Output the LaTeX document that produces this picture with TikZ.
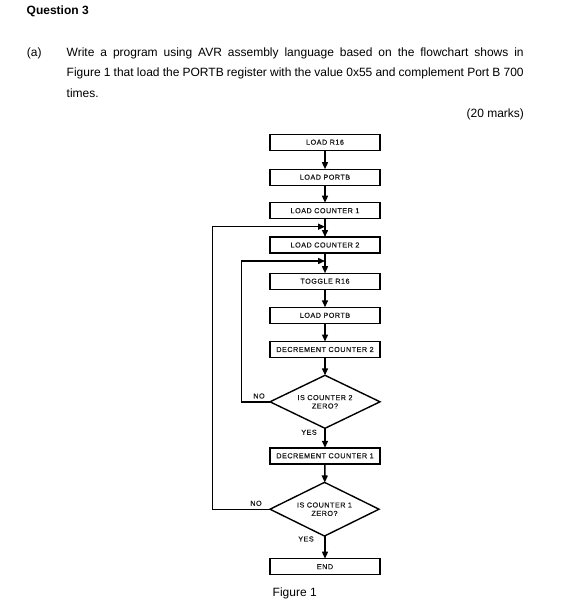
\documentclass[tikz,border=0pt]{standalone}
\usepackage{fontspec}
\setmainfont{Liberation Sans}
\newfontfamily\chartfont[LetterSpace=7, FakeBold=0.6]{Liberation Sans}
\usetikzlibrary{arrows.meta,shapes.geometric}
\begin{document}
\begin{tikzpicture}[x=1pt,y=-1pt,
  every node/.style={inner sep=0pt, outer sep=0pt},
  body/.style={font=\fontsize{12}{14}\selectfont, anchor=base west},
  boxnode/.style={draw, line width=1.4pt, minimum width=110pt, minimum height=16pt,
     font=\chartfont\fontsize{7.2}{8.4}\selectfont, text=black!90},
  decision/.style={draw, shape=diamond, aspect=2.1, line width=1.4pt,
     minimum width=110pt, minimum height=53pt, align=center,
     font=\chartfont\fontsize{7.2}{8.4}\selectfont, text=black!90},
  lbl/.style={font=\chartfont\fontsize{7.2}{8.4}\selectfont, text=black!90},
  conn/.style={line width=1.4pt},
  arr/.style={line width=1.4pt, -{Triangle[length=7pt,width=6pt]}}]
\useasboundingbox (0,0) rectangle (587,605);

% header text
\node[body, font=\bfseries\fontsize{12}{14}\selectfont] (q) at (26.7,14.3) {Question 3};
\node[body] (a) at (27,56.3) {(a)};
\node[body] (l1) at (66.7,56.3) {\makebox[457pt][s]{Write a program using AVR assembly language based on the flowchart shows in}};
\node[body] (l2) at (66.7,76) {\makebox[457pt][s]{Figure 1 that load the PORTB register with the value 0x55 and complement Port B 700}};
\node[body] (l3) at (66.7,97) {times.};
\node[body, anchor=base east] (marks) at (524,117.5) {(20 marks)};

% flowchart
\node[boxnode] (b1) at (325,142.2) {LOAD R16};
\node[boxnode] (b2) at (325,177.2) {LOAD PORTB};
\node[boxnode] (b3) at (325,210.7) {LOAD COUNTER 1};
\node[boxnode] (b4) at (325,245) {LOAD COUNTER 2};
\node[boxnode] (b5) at (325,281.2) {TOGGLE R16};
\node[boxnode] (b6) at (325,315.3) {LOAD PORTB};
\node[boxnode] (b7) at (325,349.5) {DECREMENT COUNTER 2};
\node[decision] (d1) at (325,401.8) {IS COUNTER 2\\ZERO?};
\node[boxnode] (b8) at (325,455.8) {DECREMENT COUNTER 1};
\node[decision, minimum width=109pt, minimum height=53.7pt] (d2) at (324.5,509.2) {IS COUNTER 1\\ZERO?};
\node[boxnode] (b9) at (325,566.7) {END};

\coordinate (j1) at (325,226.7);
\coordinate (j2) at (325,261);
\coordinate (outer) at (212.7,0);
\coordinate (inner) at (241.7,0);

\draw[arr] (b1) -- (b2);
\draw[arr] (b2) -- (b3);
\draw[conn] (b3) -- (j1);
\draw[arr] (j1) -- (b4);
\draw[conn] (b4) -- (j2);
\draw[arr] (j2) -- (b5);
\draw[arr] (b5) -- (b6);
\draw[arr] (b6) -- (b7);
\draw[arr] (b7) -- (d1);
\draw[arr] (d1) -- (b8);
\draw[arr] (b8) -- (d2);
\draw[arr] (d2.south -| b9) -- (b9);

\draw[arr] (d1.west) -- (d1.west -| inner) |- (j2);
\draw[arr] (d2.west) -- (d2.west -| outer) |- (j1);

\node[lbl] (no1) at (259,396) {NO};
\node[lbl] (no2) at (256,503.3) {NO};
\node[lbl] (yes1) at (309,432.3) {YES};
\node[lbl] (yes2) at (306,539) {YES};

\node[font=\fontsize{12}{14}\selectfont] (fig) at (294.7,593.3) {Figure 1};
\end{tikzpicture}
\end{document}
